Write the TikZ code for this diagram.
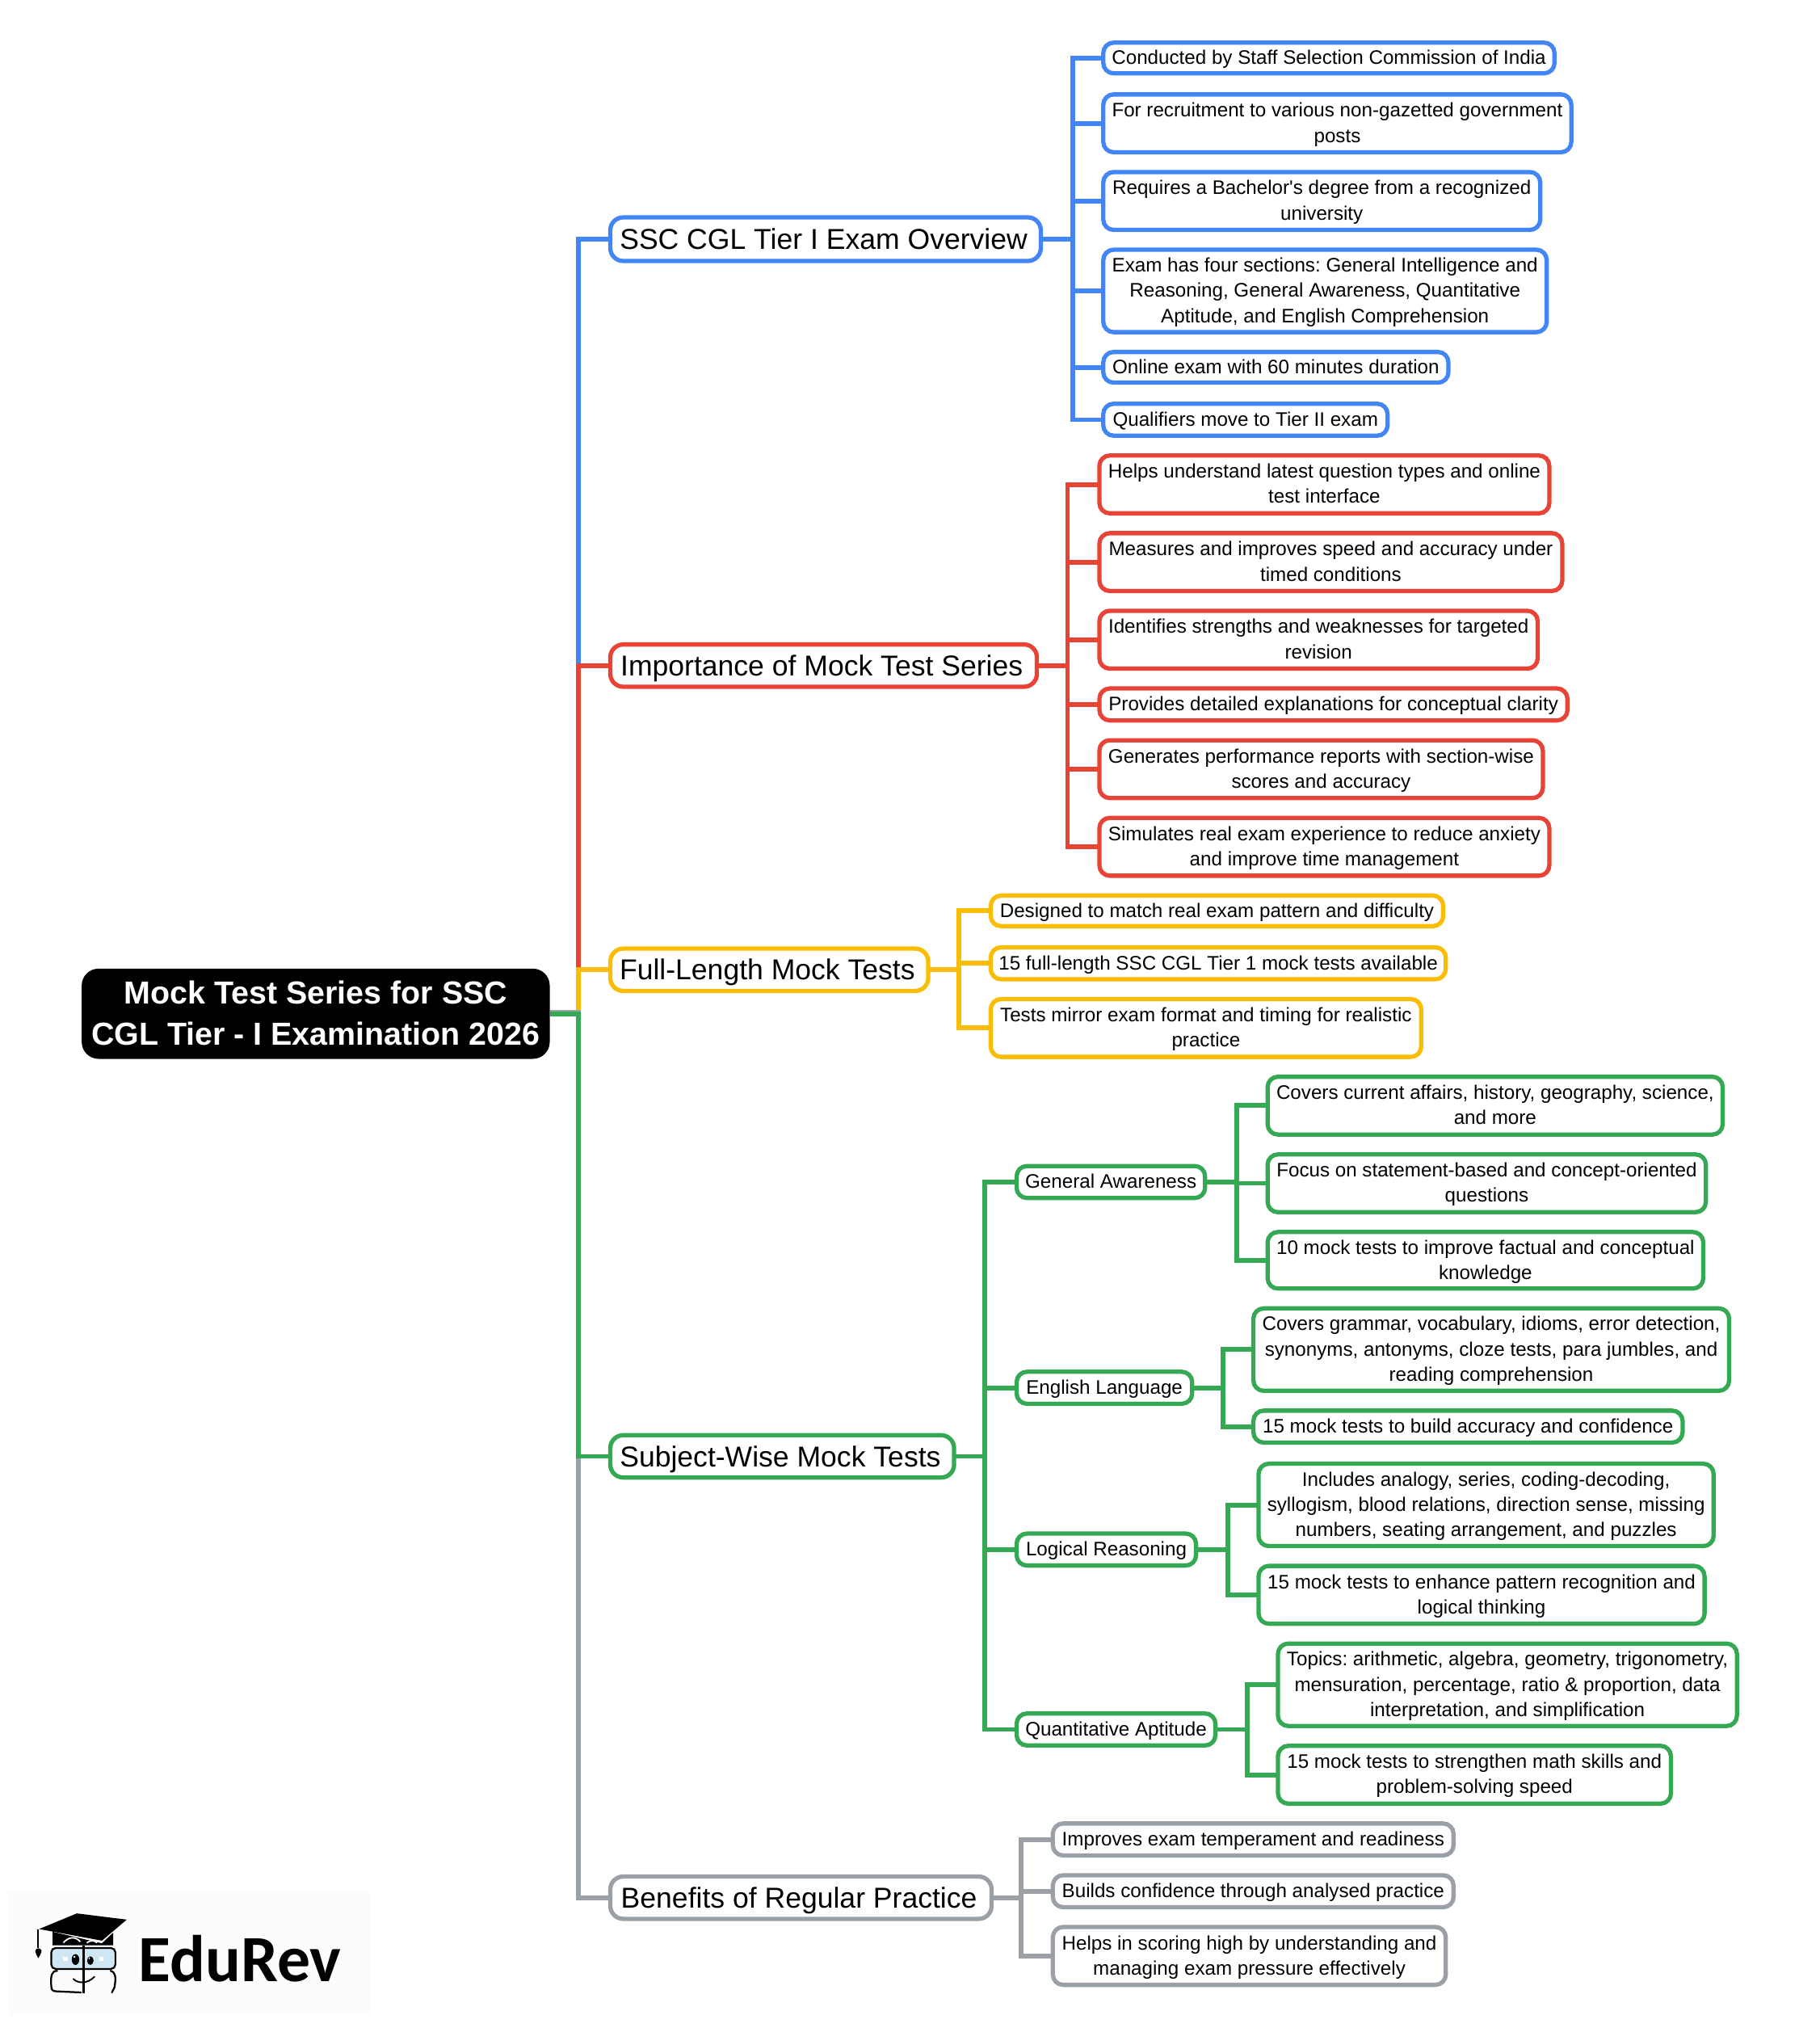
\documentclass[tikz,border=0pt]{standalone}
\usepackage{fontspec}
\setmainfont{Liberation Sans}
\newfontfamily\lsans{Liberation Sans}
\newfontfamily\logofont{Carlito}
\definecolor{cblue}{HTML}{4285F4}
\definecolor{cred}{HTML}{EA4335}
\definecolor{cyel}{HTML}{FBBC04}
\definecolor{cgrn}{HTML}{34A853}
\definecolor{cgry}{HTML}{9AA0A6}
\definecolor{glass}{HTML}{CFE7F5}
\tikzset{
  every node/.style={inner sep=0pt,outer sep=0pt,align=center},
  bxbase/.style={draw,fill=white,line width=3.3pt,text=black},
  leaf/.style={bxbase,rounded corners=8pt,font=\lsans\frenchspacing\fontsize{15.1}{19.5}\selectfont\def\sfr{.75}\def\sfk{0pt}},
  mid/.style={leaf},
  top/.style={bxbase,rounded corners=10pt,font=\lsans\frenchspacing\fontsize{22.2}{28}\selectfont\def\sfr{.78}\def\sfk{3pt}},
  rootbox/.style={fill=black,text=white,rounded corners=13pt,font=\lsans\frenchspacing\bfseries\fontsize{24.6}{31.5}\selectfont\def\sfr{.76}\def\sfk{0pt}},
  link/.style={line width=3.7pt,miter limit=10},
}
\newcommand{\stt}{\rule[\dimexpr-\baselineskip+\sfr\baselineskip\relax]{0pt}{\baselineskip}}
\newcommand{\bx}[7]{%
  \pgfmathsetmacro{\cxx}{(#3+#5)/2}%
  \pgfmathsetmacro{\cyy}{-(#4+#6)/2}%
  \pgfmathsetmacro{\ww}{#5-#3-3.3}%
  \pgfmathsetmacro{\hh}{#6-#4-3.3}%
  \node[#2,minimum width=\ww pt,minimum height=\hh pt] (#1) at (\cxx,\cyy) {\stt #7\kern\sfk\stt};%
}
\begin{document}
\begin{tikzpicture}[x=1pt,y=1pt]
\useasboundingbox (0,-0.7) rectangle (1406,-1567.7);
\fill[white] (0,-0.7) rectangle (1406,-1567.7);
\fill[black!1] (6,-1462) rectangle (286,-1558);
\coordinate (rt) at (447,-784);
\coordinate (bt) at (829,0);
\coordinate (rdt) at (825,0);
\coordinate (yt) at (741,0);
\coordinate (gt) at (761,0);
\coordinate (gat) at (956,0);
\coordinate (elt) at (945,0);
\coordinate (lrt) at (949,0);
\coordinate (qat) at (964,0);
\coordinate (grt) at (789,0);
% root and main branches
\bx{root}{rootbox}{61.5}{747.5}{426.5}{820.5}{Mock Test Series for SSC\\CGL Tier - I Examination 2026}
\bx{ssc}{top,draw=cblue}{470}{167}{806}{204}{SSC CGL Tier I Exam Overview}
\bx{imp}{top,draw=cred}{470}{497}{803}{533}{Importance of Mock Test Series}
\bx{full}{top,draw=cyel}{470}{732}{719}{768}{Full-Length Mock Tests}
\bx{subj}{top,draw=cgrn}{470}{1108}{739}{1144}{Subject-Wise Mock Tests}
\bx{ben}{top,draw=cgry}{470}{1449}{768}{1485}{Benefits of Regular Practice}
% blue leaves
\bx{b1}{leaf,draw=cblue}{851}{32}{1203}{59}{Conducted by Staff Selection Commission of India}
\bx{b2}{leaf,draw=cblue}{851}{72}{1216}{120}{For recruitment to various non-gazetted government\\posts}
\bx{b3}{leaf,draw=cblue}{851}{132}{1192}{180}{Requires a Bachelor's degree from a recognized\\university}
\bx{b4}{leaf,draw=cblue}{851}{192}{1197}{259}{Exam has four sections: General Intelligence and\\Reasoning, General Awareness, Quantitative\\Aptitude, and English Comprehension}
\bx{b5}{leaf,draw=cblue}{851}{271}{1121}{298}{Online exam with 60 minutes duration}
\bx{b6}{leaf,draw=cblue}{851}{311}{1074}{339}{Qualifiers move to Tier II exam}
% red leaves
\bx{r1}{leaf,draw=cred}{848}{351}{1199}{399}{Helps understand latest question types and online\\test interface}
\bx{r2}{leaf,draw=cred}{848}{411}{1209}{459}{Measures and improves speed and accuracy under\\timed conditions}
\bx{r3}{leaf,draw=cred}{848}{471}{1190}{519}{Identifies strengths and weaknesses for targeted\\revision}
\bx{r4}{leaf,draw=cred}{848}{531}{1213}{559}{Provides detailed explanations for conceptual clarity}
\bx{r5}{leaf,draw=cred}{848}{571}{1194}{619}{Generates performance reports with section-wise\\scores and accuracy}
\bx{r6}{leaf,draw=cred}{848}{631}{1199}{679}{Simulates real exam experience to reduce anxiety\\and improve time management}
% yellow leaves
\bx{y1}{leaf,draw=cyel}{764}{691}{1117}{718}{Designed to match real exam pattern and difficulty}
\bx{y2}{leaf,draw=cyel}{764}{731}{1119}{759}{15 full-length SSC CGL Tier 1 mock tests available}
\bx{y3}{leaf,draw=cyel}{764}{771}{1100}{819}{Tests mirror exam format and timing for realistic\\practice}
% green mid level
\bx{ga}{mid,draw=cgrn}{784}{900}{933}{928}{General Awareness}
\bx{el}{mid,draw=cgrn}{784}{1059}{923}{1087}{English Language}
\bx{lr}{mid,draw=cgrn}{784}{1184}{926}{1212}{Logical Reasoning}
\bx{qa}{mid,draw=cgrn}{784}{1323}{941}{1351}{Quantitative Aptitude}
% green leaves
\bx{ga1}{leaf,draw=cgrn}{978}{831}{1333}{879}{Covers current affairs, history, geography, science,\\and more}
\bx{ga2}{leaf,draw=cgrn}{978}{891}{1320}{939}{Focus on statement-based and concept-oriented\\questions}
\bx{ga3}{leaf,draw=cgrn}{978}{951}{1318}{998}{10 mock tests to improve factual and conceptual\\knowledge}
\bx{el1}{leaf,draw=cgrn}{967}{1010}{1338}{1077}{Covers grammar, vocabulary, idioms, error detection,\\synonyms, antonyms, cloze tests, para jumbles, and\\reading comprehension}
\bx{el2}{leaf,draw=cgrn}{967}{1089}{1302}{1117}{15 mock tests to build accuracy and confidence}
\bx{lr1}{leaf,draw=cgrn}{971}{1130}{1326}{1197}{Includes analogy, series, coding-decoding,\\syllogism, blood relations, direction sense, missing\\numbers, seating arrangement, and puzzles}
\bx{lr2}{leaf,draw=cgrn}{971}{1209}{1319}{1257}{15 mock tests to enhance pattern recognition and\\logical thinking}
\bx{qa1}{leaf,draw=cgrn}{986}{1269}{1344}{1336}{Topics: arithmetic, algebra, geometry, trigonometry,\\mensuration, percentage, ratio \& proportion, data\\interpretation, and simplification}
\bx{qa2}{leaf,draw=cgrn}{986}{1348}{1293}{1396}{15 mock tests to strengthen math skills and\\problem-solving speed}
% grey leaves
\bx{g1}{leaf,draw=cgry}{812}{1408}{1125}{1436}{Improves exam temperament and readiness}
\bx{g2}{leaf,draw=cgry}{812}{1448}{1125}{1476}{Builds confidence through analysed practice}
\bx{g3}{leaf,draw=cgry}{812}{1488}{1119}{1536}{Helps in scoring high by understanding and\\managing exam pressure effectively}
% connectors
\begin{scope}[link]
\draw[cblue] (root.east) -- (rt) |- (ssc.west);
\draw[cred] (root.east) -- (rt) |- (imp.west);
\draw[cyel] (root.east) -- (rt) |- (full.west);
\draw[cgry] ([yshift=1pt]root.east) -- ([yshift=1pt]rt) |- (ben.west);
\draw[cgrn] (root.east) -- (rt) |- (subj.west);
\foreach \n in {b1,b2,b3,b4,b5,b6} \draw[cblue] (ssc.east) -- (bt |- ssc.east) |- (\n.west);
\foreach \n in {r1,r2,r3,r4,r5,r6} \draw[cred] (imp.east) -- (rdt |- imp.east) |- (\n.west);
\foreach \n in {y1,y2,y3} \draw[cyel] (full.east) -- (yt |- full.east) |- (\n.west);
\foreach \n in {ga,el,lr,qa} \draw[cgrn] (subj.east) -- (gt |- subj.east) |- (\n.west);
\foreach \n in {ga1,ga2,ga3} \draw[cgrn] (ga.east) -- (gat |- ga.east) |- (\n.west);
\foreach \n in {el1,el2} \draw[cgrn] (el.east) -- (elt |- el.east) |- (\n.west);
\foreach \n in {lr1,lr2} \draw[cgrn] (lr.east) -- (lrt |- lr.east) |- (\n.west);
\foreach \n in {qa1,qa2} \draw[cgrn] (qa.east) -- (qat |- qa.east) |- (\n.west);
\foreach \n in {g1,g2,g3} \draw[cgry] (ben.east) -- (grt |- ben.east) |- (\n.west);
\end{scope}
% logo, in crop pixels of the lower left corner
\begin{scope}[shift={(0,-1436)},x=0.2084pt,y=-0.2084pt]
\fill[black] (285,207) -- (470,230) -- (378,308) -- (145,265) -- cycle;
\fill[black] (195,275) -- (378,318) -- (420,278) -- (420,325) -- (195,325) -- cycle;
\draw[white,line width=1.1pt] (235,316) .. controls (255,292) and (280,292) .. (298,312);
\draw[white,line width=1.1pt] (322,316) .. controls (335,306) and (350,306) .. (360,316);
\draw[black,line width=1.1pt] (140,265) -- (140,335);
\fill[black] (131,345) .. controls (133,335) and (150,332) .. (154,345) .. controls (154,355) and (146,365) .. (142,373) .. controls (138,365) and (131,355) .. (131,345) -- cycle;
\draw[black,line width=1.4pt,fill=glass,rounded corners=3.5pt] (190,335) rectangle (428,413);
\draw[black,line width=1.4pt,line cap=round] (212,420) .. controls (190,420) and (188,440) .. (190,475) .. controls (190,490) and (195,496) .. (210,496) -- (300,500);
\draw[black,line width=1.4pt,line cap=round] (410,420) .. controls (430,425) and (430,445) .. (425,480) -- (415,500);
\draw[black,line width=1.6pt] (310,325) -- (310,503);
\draw[black,line width=1.2pt,line cap=round] (272,450) .. controls (290,468) and (325,468) .. (350,442);
\fill[black] (280,378) ellipse[x radius=14,y radius=20];
\fill[black] (335,382) ellipse[x radius=12,y radius=16];
\fill[white] (276,368) circle[radius=4];
\fill[white] (331,374) circle[radius=3];
\fill[white] (235,367) rectangle (251,383);
\fill[white] (367,367) rectangle (383,383);
\node[anchor=base west,text=black,font=\logofont\bfseries\fontsize{51}{51}\selectfont] (logo) at (515,460) {EduRev};
\end{scope}
\end{tikzpicture}
\end{document}
